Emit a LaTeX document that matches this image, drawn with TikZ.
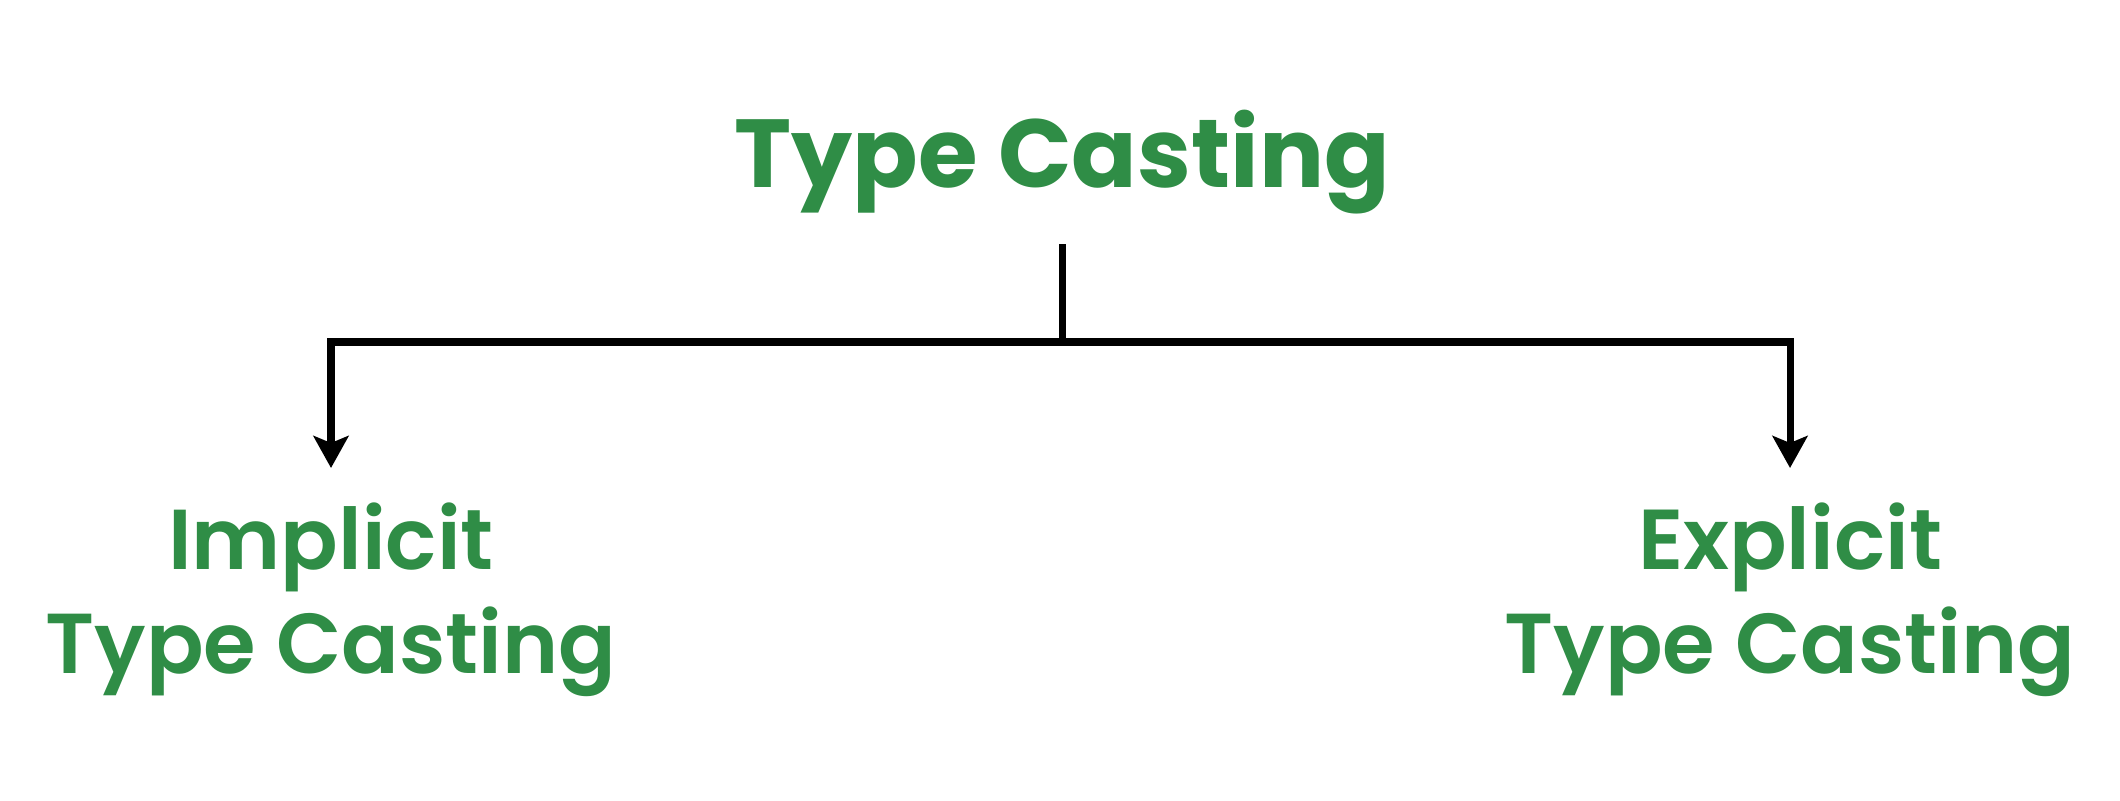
\documentclass[tikz,border=0pt]{standalone}
\usepackage{fontspec}
\setmainfont{Poppins}[UprightFont=* Medium, BoldFont=* SemiBold]
\newfontfamily\titlefont{Poppins}[UprightFont=* Bold]
\usepackage{tikz}
\usetikzlibrary{arrows.meta, calc, positioning}
\definecolor{castgreen}{RGB}{47,141,70}

\begin{document}
\begin{tikzpicture}[
    rootlabel/.style={castgreen, font=\fontsize{27.5}{33}\selectfont\titlefont, inner sep=0pt},
    leaflabel/.style={castgreen, font=\fontsize{24.2}{29.6}\selectfont\bfseries, align=center, inner xsep=0pt, inner ysep=3.4mm},
    link/.style={line width=2pt, black},
    branch/.style={line width=2pt, black, -{Stealth[length=3.2mm, width=3.5mm, inset=0.7mm]}}
]
\useasboundingbox (0,0) rectangle (21.2,8);

% Root and split point
\node[rootlabel, anchor=base] (root) at (10.62,6.12) {Type Casting};
\coordinate (split) at (10.62,4.58);

% Leaves
\node[leaflabel, anchor=north] (implicit) at (3.31,3.32) {Implicit\\Type Casting};
\node[leaflabel, anchor=north] (explicit) at (17.9,3.32) {Explicit\\Type Casting};

% Connectors
\draw[link] ([yshift=-2.9mm]root.south) -- (split);
\draw[branch] (split) -| (implicit.north);
\draw[branch] (split) -| (explicit.north);

\end{tikzpicture}
\end{document}
